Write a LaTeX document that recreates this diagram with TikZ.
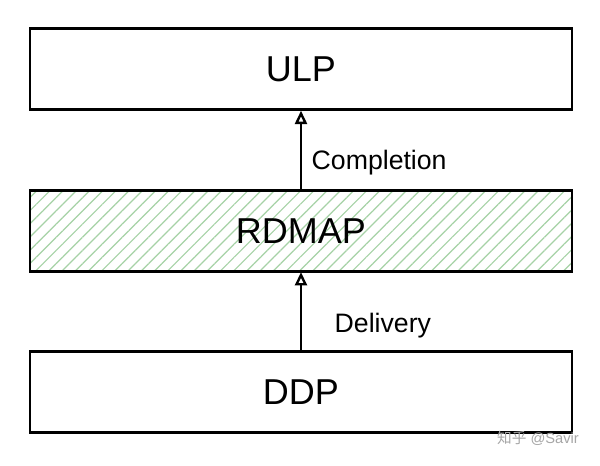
\documentclass[tikz,border=0pt]{standalone}
\usepackage{fontspec}
\setmainfont{Liberation Sans}
\newfontfamily\cjk{Noto Sans CJK SC}
\usetikzlibrary{patterns.meta,arrows.meta}
\begin{document}
\begin{tikzpicture}[x=0.75pt,y=-0.75pt,
  layer/.style={draw=black,line width=1.8pt,minimum width=542*0.75pt,minimum height=81*0.75pt,inner sep=0pt,font=\fontsize{27}{32}\selectfont},
  flow/.style={-{Triangle[open,length=10pt,width=9pt]},line width=1.8pt},
  lbl/.style={font=\fontsize{20}{24}\selectfont,anchor=west}]
\useasboundingbox (0,0) rectangle (600,465);
\fill[white] (0,0) rectangle (600,465);
\node[layer] (ulp) at (301,69) {ULP};
\node[layer,pattern={Lines[angle=45,distance=7pt,line width=0.9pt]},pattern color=green!50!black!35] (rdmap) at (301,231) {};
\node[font=\fontsize{27}{32}\selectfont] (rdmapt) at (301,231) {RDMAP};
\node[layer] (ddp) at (301,392) {DDP};
\draw[flow] (rdmap.north) -- (ulp.south);
\draw[flow] (ddp.north) -- (rdmap.south);
\node[lbl] (c) at (307,163) {Completion};
\node[lbl] (d) at (330,326) {Delivery};
\node[text=gray!70,font=\fontsize{11}{13}\selectfont] (wm) at (538,438) {{\cjk 知乎} @Savir};
\end{tikzpicture}
\end{document}
